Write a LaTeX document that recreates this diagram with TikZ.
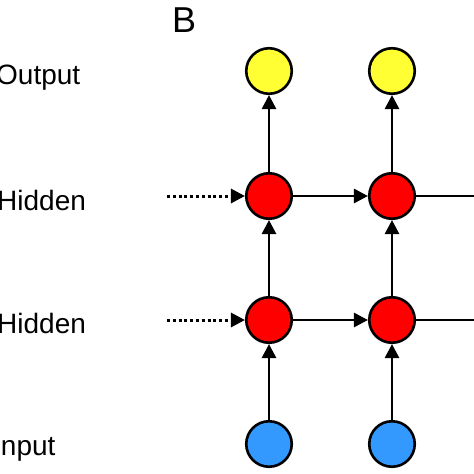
\documentclass[tikz,border=0pt]{standalone}
\usepackage{fontspec}
\setmainfont{Liberation Sans}
\usetikzlibrary{arrows.meta}
\begin{document}
\begin{tikzpicture}[x=1pt,y=-1pt,
  unit/.style={circle,draw=black,line width=2.6pt,minimum size=45.5pt,inner sep=0pt},
  outunit/.style={unit,fill=outyellow},
  hidunit/.style={unit,fill=hidred},
  inunit/.style={unit,fill=inblue},
  conn/.style={line width=2.8pt,-{Triangle[length=14pt,width=14pt]}},
  plain/.style={line width=2.8pt},
  dotconn/.style={line width=3pt,dash pattern=on 3pt off 2.8pt,-{Triangle[length=14pt,width=14pt]}},
  lab/.style={anchor=base west,inner sep=0pt,font=\fontsize{28}{30}\selectfont}]
\definecolor{outyellow}{RGB}{255,255,51}
\definecolor{hidred}{RGB}{255,0,0}
\definecolor{inblue}{RGB}{51,153,255}
\useasboundingbox (0,0) rectangle (474,474);
\node[lab] (tout) at (-4,84) {Output};
\node[lab] (th1) at (-3,210) {Hidden};
\node[lab] (th2) at (-3,333) {Hidden};
\node[lab] (tin) at (-7,455) {Input};
\node[anchor=base west,inner sep=0pt,font=\fontsize{36}{38}\selectfont] (B) at (172,32) {B};
\node[outunit] (o1) at (269,71) {};
\node[outunit] (o2) at (392,71) {};
\node[hidunit] (h1) at (269,196) {};
\node[hidunit] (h2) at (392,196) {};
\node[hidunit] (g1) at (269,320) {};
\node[hidunit] (g2) at (392,320) {};
\node[inunit] (i1) at (269,444) {};
\node[inunit] (i2) at (392,444) {};
\coordinate (d1) at (167,196);
\coordinate (d2) at (167,320);
\coordinate (e1) at (480,196);
\coordinate (e2) at (480,320);
\draw[dotconn] (d1) -- (h1);
\draw[dotconn] (d2) -- (g1);
\draw[conn] (h1) -- (h2);
\draw[conn] (g1) -- (g2);
\draw[plain] (h2) -- (e1);
\draw[plain] (g2) -- (e2);
\draw[conn] (h1) -- (o1);
\draw[conn] (h2) -- (o2);
\draw[conn] (g1) -- (h1);
\draw[conn] (g2) -- (h2);
\draw[conn] (i1) -- (g1);
\draw[conn] (i2) -- (g2);
\end{tikzpicture}
\end{document}
